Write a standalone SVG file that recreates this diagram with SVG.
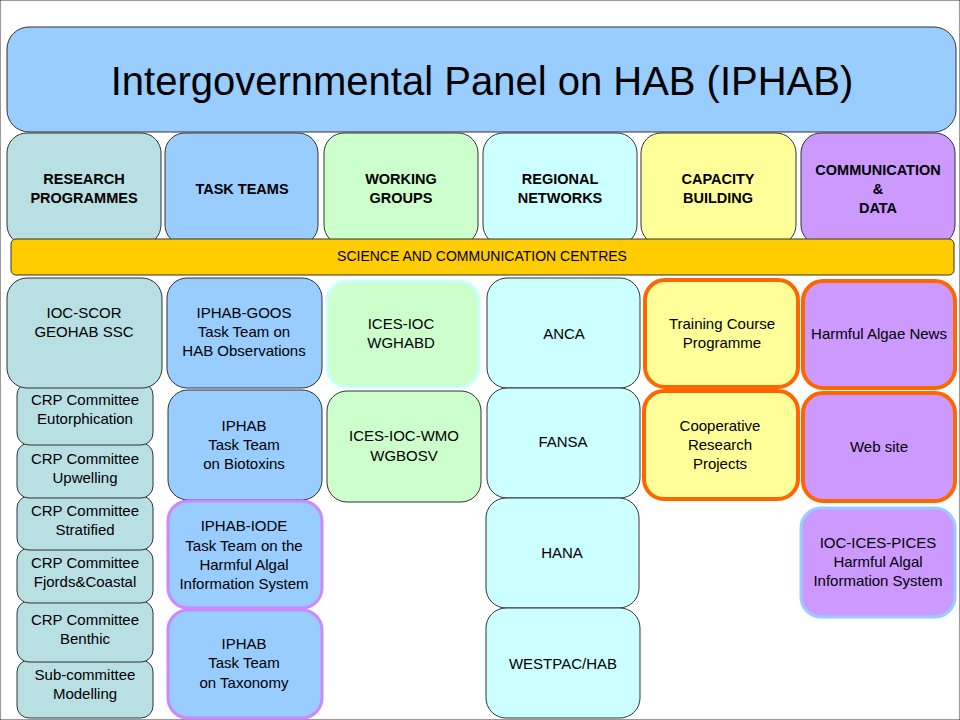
<svg xmlns="http://www.w3.org/2000/svg" width="960" height="720" viewBox="0 0 960 720">
<style>
text{font-family:"Liberation Sans",Arial,sans-serif;font-size:15px;fill:#000;text-anchor:middle}
.h{font-weight:bold;font-size:14.5px}
rect{stroke:#333;stroke-width:1}
.rp{fill:#b8dfe2}.tt{fill:#99ccff}.wg{fill:#ccffcc}.rn{fill:#ccffff}.cb{fill:#ffff99}.cd{fill:#cc99ff}
.or{stroke:#ff6600;stroke-width:4}.pu{stroke:#cc88ff;stroke-width:3}.lb{stroke:#99ccff;stroke-width:3}.lc{stroke:#ccffff;stroke-width:3}
</style>
<rect width="960" height="720" fill="#fff" stroke="none"/>
<g id="title"><rect x="7" y="27" width="949" height="105" rx="22" fill="#99ccff"/><text x="482" y="95" style="font-size:40px">Intergovernmental Panel on HAB (IPHAB)</text></g>
<g id="hdr-research"><rect class="rp" x="7" y="133" width="154" height="112" rx="20"/><text class="h" x="84" y="184">RESEARCH</text><text class="h" x="84" y="203">PROGRAMMES</text></g>
<g id="hdr-task"><rect class="tt" x="165" y="133" width="153" height="112" rx="20"/><text class="h" x="242" y="194">TASK TEAMS</text></g>
<g id="hdr-wg"><rect class="wg" x="324" y="133" width="154" height="112" rx="20"/><text class="h" x="401" y="184">WORKING</text><text class="h" x="401" y="203">GROUPS</text></g>
<g id="hdr-rn"><rect class="rn" x="483" y="133" width="154" height="112" rx="20"/><text class="h" x="560" y="184">REGIONAL</text><text class="h" x="560" y="203">NETWORKS</text></g>
<g id="hdr-cb"><rect class="cb" x="641" y="133" width="155" height="112" rx="20"/><text class="h" x="718" y="184">CAPACITY</text><text class="h" x="718" y="203">BUILDING</text></g>
<g id="hdr-cd"><rect class="cd" x="801" y="133" width="154" height="112" rx="20"/><text class="h" x="878" y="175">COMMUNICATION</text><text class="h" x="878" y="194">&amp;</text><text class="h" x="878" y="213">DATA</text></g>
<g id="bar"><rect x="11" y="239" width="943" height="36" rx="5" fill="#ffcc00" stroke="#ff6600" stroke-width="3"/><text x="482" y="261" style="font-size:14px">SCIENCE AND COMMUNICATION CENTRES</text></g>
<g id="crp6"><rect class="rp" x="17" y="660" width="136" height="58" rx="12"/><text x="85" y="680">Sub-committee</text><text x="85" y="699">Modelling</text></g>
<g id="crp5"><rect class="rp" x="17" y="601" width="136" height="61" rx="12"/><text x="85" y="625">CRP Committee</text><text x="85" y="644">Benthic</text></g>
<g id="crp4"><rect class="rp" x="17" y="548" width="136" height="55" rx="12"/><text x="85" y="568">CRP Committee</text><text x="85" y="587">Fjords&amp;Coastal</text></g>
<g id="crp3"><rect class="rp" x="17" y="496" width="136" height="54" rx="12"/><text x="85" y="516">CRP Committee</text><text x="85" y="535">Stratified</text></g>
<g id="crp2"><rect class="rp" x="17" y="443" width="136" height="55" rx="12"/><text x="85" y="464">CRP Committee</text><text x="85" y="483">Upwelling</text></g>
<g id="crp1"><rect class="rp" x="17" y="383" width="136" height="62" rx="12"/><text x="85" y="405">CRP Committee</text><text x="85" y="424">Eutorphication</text></g>
<g id="ioc-scor"><rect class="rp" x="7" y="278" width="155" height="110" rx="20"/><text x="84" y="318">IOC-SCOR</text><text x="84" y="337">GEOHAB SSC</text></g>
<g id="tt1"><rect class="tt" x="167" y="278" width="155" height="110" rx="20"/><text x="244" y="318">IPHAB-GOOS</text><text x="244" y="337">Task Team on</text><text x="244" y="356">HAB Observations</text></g>
<g id="tt2"><rect class="tt" x="168" y="390" width="154" height="110" rx="20"/><text x="244" y="431">IPHAB</text><text x="244" y="450">Task Team</text><text x="244" y="469">on Biotoxins</text></g>
<g id="tt3"><rect class="tt pu" x="168" y="501" width="154" height="107" rx="20"/><text x="244" y="531">IPHAB-IODE</text><text x="244" y="551">Task Team on the</text><text x="244" y="570">Harmful Algal</text><text x="244" y="589">Information System</text></g>
<g id="tt4"><rect class="tt pu" x="168" y="610" width="154" height="108" rx="20"/><text x="244" y="649">IPHAB</text><text x="244" y="668">Task Team</text><text x="244" y="688">on Taxonomy</text></g>
<g id="wg1"><rect class="wg lc" x="327" y="281" width="152" height="106" rx="20"/><text x="401" y="329">ICES-IOC</text><text x="401" y="348">WGHABD</text></g>
<g id="wg2"><rect class="wg" x="327" y="391" width="154" height="111" rx="20"/><text x="404" y="441">ICES-IOC-WMO</text><text x="404" y="461">WGBOSV</text></g>
<g id="rn1"><rect class="rn" x="487" y="278" width="153" height="110" rx="20"/><text x="564" y="339">ANCA</text></g>
<g id="rn2"><rect class="rn" x="487" y="388" width="153" height="110" rx="20"/><text x="563" y="447">FANSA</text></g>
<g id="rn3"><rect class="rn" x="486" y="498" width="153" height="110" rx="20"/><text x="562" y="558">HANA</text></g>
<g id="rn4"><rect class="rn" x="486" y="608" width="154" height="110" rx="20"/><text x="563" y="669">WESTPAC/HAB</text></g>
<g id="cb1"><rect class="cb or" x="645" y="280" width="153" height="107" rx="20"/><text x="722" y="329">Training Course</text><text x="722" y="348">Programme</text></g>
<g id="cb2"><rect class="cb or" x="644" y="391" width="154" height="108" rx="20"/><text x="720" y="431">Cooperative</text><text x="720" y="450">Research</text><text x="720" y="469">Projects</text></g>
<g id="cd1"><rect class="cd or" x="803" y="281" width="152" height="107" rx="20"/><text x="879" y="339">Harmful Algae News</text></g>
<g id="cd2"><rect class="cd or" x="803" y="393" width="152" height="108" rx="20"/><text x="879" y="452">Web site</text></g>
<g id="cd3"><rect class="cd lb" x="801" y="508" width="154" height="109" rx="20"/><text x="878" y="548">IOC-ICES-PICES</text><text x="878" y="567">Harmful Algal</text><text x="878" y="586">Information System</text></g>
<g id="connectors"></g>
</svg>
